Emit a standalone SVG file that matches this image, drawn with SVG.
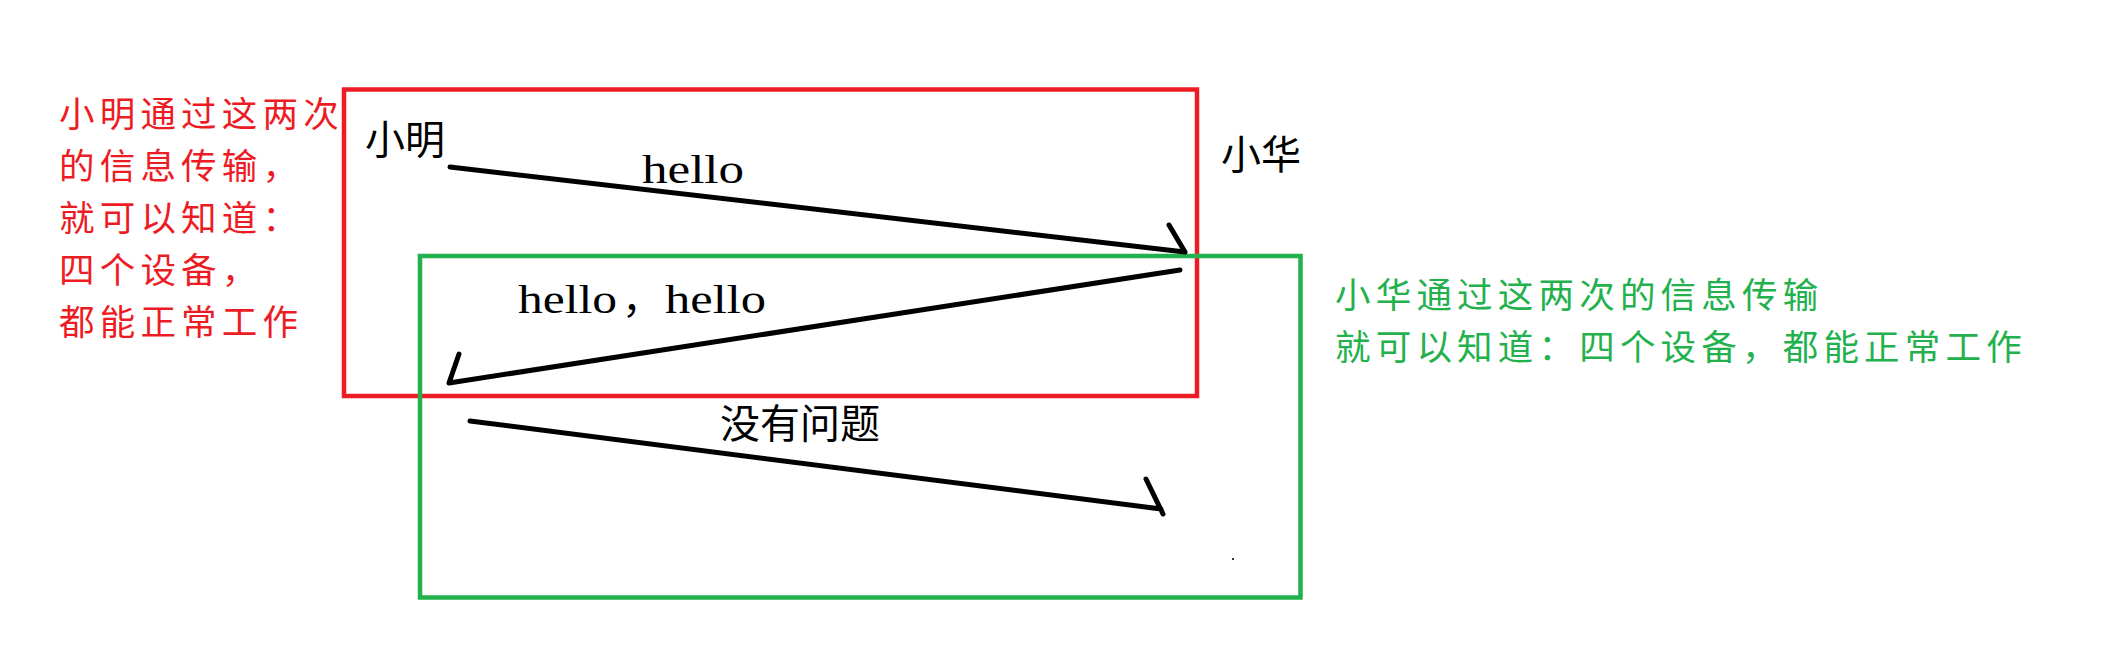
<svg xmlns="http://www.w3.org/2000/svg" width="2114" height="659" viewBox="0 0 2114 659">
<style>
.t{font-family:"Noto Sans CJK SC","Noto Sans",sans-serif;font-size:40px}
.n{font-family:"Noto Sans CJK SC","Noto Sans",sans-serif;font-size:35.5px;letter-spacing:5.2px}
.lat{font-family:"Liberation Serif",serif;font-size:40px}
.red{fill:#ED1C24}
.green{fill:#22B14C}
.blk{fill:#000}
.box{fill:none;stroke-width:4.5}
.arr{fill:none;stroke:#000;stroke-width:5;stroke-linecap:round;stroke-linejoin:round}
</style>
<rect width="2114" height="659" fill="#fff"/>
<g id="red-box"><rect class="box" x="344" y="89.5" width="853" height="306.5" stroke="#ED1C24"/></g>
<g id="green-box"><rect class="box" x="420" y="256" width="880.5" height="341.5" stroke="#22B14C"/></g>
<g id="red-note">
<text class="n red" x="59" y="127">小明通过这两次</text>
<text class="n red" x="59" y="179">的信息传输，</text>
<text class="n red" x="59" y="231">就可以知道：</text>
<text class="n red" x="59" y="283">四个设备，</text>
<text class="n red" x="59" y="335">都能正常工作</text>
</g>
<g id="green-note">
<text class="n green" x="1335" y="308">小华通过这两次的信息传输</text>
<text class="n green" x="1335" y="360">就可以知道：四个设备，都能正常工作</text>
</g>
<g id="xiaoming"><text class="t blk" x="365" y="154">小明</text></g>
<g id="xiaohua"><text class="t blk" x="1221" y="169">小华</text></g>
<g id="connectors">
<path class="arr" d="M450,167 L1185,252 M1169,225 L1185,252"/>
<path class="arr" d="M1180,270 L449,383 M459,354 L449,383"/>
<path class="arr" d="M470,421 L1161,509 M1146,479 L1163,514"/>
<text class="lat blk" x="642" y="183" textLength="102" lengthAdjust="spacingAndGlyphs">hello</text>
<text class="lat blk" x="518" y="313"><tspan x="518" textLength="99" lengthAdjust="spacingAndGlyphs">hello</tspan><tspan class="t" x="622">，</tspan><tspan x="665" textLength="101" lengthAdjust="spacingAndGlyphs">hello</tspan></text>
<text class="t blk" x="720" y="438">没有问题</text>
</g>
<rect x="1232" y="558" width="2" height="2" fill="#333"/>
</svg>
